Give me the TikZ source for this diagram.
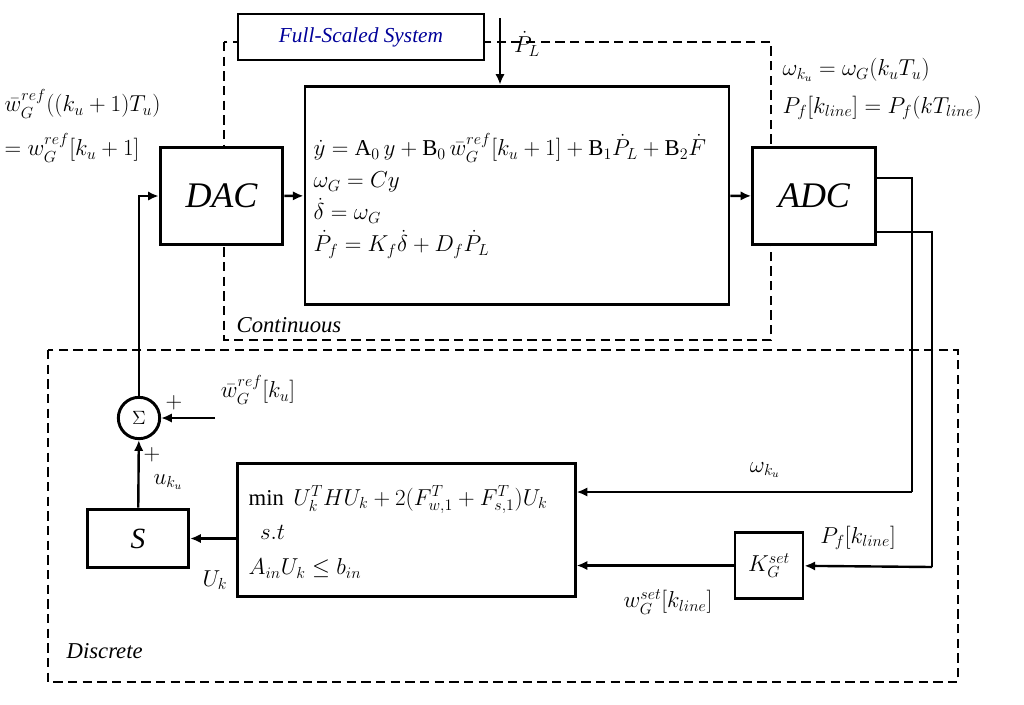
\documentclass[tikz,border=0pt]{standalone}
\usepackage{fontspec}
\setmainfont{Liberation Serif}
\usepackage{amsmath}
\usetikzlibrary{arrows.meta}
\tikzset{
    blk/.style={draw, fill=white, line width=2.2pt, inner sep=0pt},
    zone/.style={draw, line width=2.2pt, dash pattern=on 7pt off 4pt},
    sig/.style={line width=1.8pt, -{Latex[length=8pt,width=7pt]}},
    wire/.style={line width=1.8pt},
    lbl/.style={font=\fontsize{17}{20}\selectfont},
}
\begin{document}
\begin{tikzpicture}[x=0.75pt, y=-0.75pt]
    \useasboundingbox (0,0) rectangle (1024,704);

    % zones
    \draw[zone] (224,42) rectangle (771,340);
    \draw[zone] (48,350) rectangle (958,682);
    \node[draw, line width=1pt, fill=white, minimum width=184.5pt, minimum height=34.5pt,
        text=blue!60!black, font=\itshape\fontsize{16}{18}\selectfont] (full) at (361,37) {Full-Scaled System};
    \node[anchor=west, font=\itshape\fontsize{17}{19}\selectfont] (cont) at (232,325) {Continuous};
    \node[anchor=west, font=\itshape\fontsize{17}{19}\selectfont] (disc) at (62,651) {Discrete};

    % blocks
    \node[blk, minimum width=318pt, minimum height=164pt] (plant) at (517,195.5) {};
    \node[anchor=west, align=left, lbl] (eqs) at (309,196) {%
        $\dot y = \mathrm{A}_0\, y + \mathrm{B}_0\, \bar w_G^{ref}[k_u+1] + \mathrm{B}_1 \dot P_L + \mathrm{B}_2 \dot F$\\[4pt]
        $\omega_G = Cy$\\[4pt]
        $\dot\delta = \omega_G$\\[4pt]
        $\dot P_f = K_f \dot\delta + D_f \dot P_L$};
    \node[blk, minimum width=92pt, minimum height=73pt, font=\itshape\fontsize{27}{27}\selectfont] (dac) at (221.5,196) {DAC};
    \node[blk, minimum width=92pt, minimum height=73pt, font=\itshape\fontsize{27}{27}\selectfont] (adc) at (814,196) {ADC};
    \node[draw, circle, line width=2.2pt, minimum size=31pt, inner sep=0pt, font=\Large] (sum) at (139,418) {$\Sigma$};
    \node[blk, minimum width=76pt, minimum height=44pt, font=\itshape\fontsize{22}{22}\selectfont] (s) at (138,538.5) {S};
    \node[blk, minimum width=253pt, minimum height=100pt] (mpc) at (406.5,530) {};
    \node[anchor=west, align=left, lbl] (opt) at (244,532) {%
        $\min\ U_k^T H U_k + 2(F_{w,1}^T + F_{s,1}^T)U_k$\\[6pt]
        $\ \ s.t$\\[6pt]
        $A_{in} U_k \le b_{in}$};
    \node[blk, minimum width=51pt, minimum height=49pt, lbl] (kg) at (769,565.5) {$K_G^{set}$};

    % free ends
    \coordinate (pl) at (500,18);
    \coordinate (wr) at (215,418);
    \coordinate (a1) at (912,178);
    \coordinate (a2) at (932,232);
    \coordinate (b1) at (912,492);
    \coordinate (b2) at (932,567);

    % connectors
    \draw[sig] (pl) -- (pl |- plant.north);
    \draw[sig] (dac) -- (plant);
    \draw[sig] (plant) -- (adc);
    \draw[sig] (sum) |- (dac);
    \draw[sig] (wr) -- (sum);
    \draw[sig] (s) -- (sum);
    \draw[sig] (mpc.west |- s) -- (s);
    \draw[wire] (adc.east |- a1) -- (a1) -- (b1);
    \draw[sig] (b1) -- (mpc.east |- b1);
    \draw[wire] (adc.east |- a2) -- (a2) -- (b2);
    \draw[sig] (b2) -- (kg);
    \draw[sig] (kg) -- (mpc.east |- kg);

    % labels
    \node[lbl] (lpl) at (527,44) {$\dot P_L$};
    \node[anchor=west, lbl] (lom) at (778,70) {$\omega_{k_u} = \omega_G(k_u T_u)$};
    \node[anchor=west, lbl] (lpf) at (778,108) {$P_f[k_{line}] = P_f(kT_{line})$};
    \node[anchor=west, lbl] (lw1) at (0,104) {$\bar w_G^{ref}((k_u+1)T_u)$};
    \node[anchor=west, lbl] (lw2) at (0,148) {$= w_G^{ref}[k_u+1]$};
    \node[lbl] (lwr) at (258,390) {$\bar w_G^{ref}[k_u]$};
    \node[lbl] (p1) at (174,403) {$+$};
    \node[lbl] (p2) at (152,455) {$+$};
    \node[lbl] (lu) at (168,482) {$u_{k_u}$};
    \node[lbl] (luk) at (215,580) {$U_k$};
    \node[lbl] (lok) at (765,470) {$\omega_{k_u}$};
    \node[lbl] (lpk) at (858,538) {$P_f[k_{line}]$};
    \node[lbl] (lws) at (668,602) {$w_G^{set}[k_{line}]$};
\end{tikzpicture}
\end{document}
